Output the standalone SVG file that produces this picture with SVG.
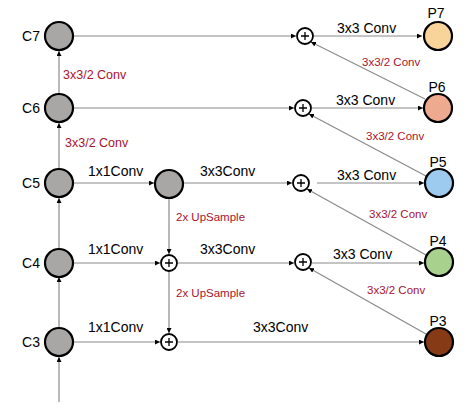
<svg xmlns="http://www.w3.org/2000/svg" width="474" height="414" viewBox="0 0 474 414">
<style>
.bg{fill:#ffffff}
.node{stroke:#000;stroke-width:2.2}
.c{fill:#a9a6a6}
.plus{fill:#fff;stroke:#000;stroke-width:1.8}
.pl{stroke:#000;stroke-width:1.3;fill:none}
.e{stroke:#8a8a8a;stroke-width:1.2;fill:none;marker-end:url(#ah)}
.t{font-family:"Liberation Sans",Arial,sans-serif;font-size:14px;fill:#000}
.r{font-family:"Liberation Sans",Arial,sans-serif;font-size:12.5px;fill:#a8122e}
.rs{font-family:"Liberation Sans",Arial,sans-serif;font-size:11.5px;fill:#a8122e}
</style>
<defs>
<marker id="ah" viewBox="0 0 10 10" refX="10" refY="5" markerWidth="5" markerHeight="5" orient="auto" markerUnits="userSpaceOnUse">
<path d="M0,0 L10,5 L0,10 z" fill="#000"/>
</marker>
</defs>
<rect class="bg" x="0" y="0" width="474" height="414"/>
<g id="connectors">
<line class="e" x1="59" y1="402" x2="59" y2="357"/>
<line class="e" x1="59" y1="328" x2="59" y2="277"/>
<line class="e" x1="59" y1="249" x2="59" y2="198"/>
<line class="e" x1="59" y1="169" x2="59" y2="123"/>
<line class="e" x1="59" y1="94" x2="59" y2="51"/>
<line class="e" x1="74" y1="36" x2="296" y2="36"/>
<line class="e" x1="74" y1="108" x2="294" y2="108"/>
<line class="e" x1="74" y1="183" x2="154" y2="183"/>
<line class="e" x1="184" y1="183" x2="292" y2="183"/>
<line class="e" x1="74" y1="263" x2="160" y2="263"/>
<line class="e" x1="178" y1="263" x2="294" y2="263"/>
<line class="e" x1="74" y1="342" x2="160" y2="342"/>
<line class="e" x1="178" y1="342" x2="424" y2="342"/>
<line class="e" x1="169" y1="198" x2="169" y2="254"/>
<line class="e" x1="169" y1="272" x2="169" y2="333"/>
<line class="e" x1="314" y1="36" x2="422" y2="36"/>
<line class="e" x1="312" y1="108" x2="423" y2="108"/>
<line class="e" x1="317" y1="183" x2="424" y2="183"/>
<line class="e" x1="312" y1="263" x2="424" y2="263"/>
<line class="e" x1="425" y1="99" x2="311" y2="42"/>
<line class="e" x1="426" y1="176" x2="309" y2="114"/>
<line class="e" x1="426" y1="255" x2="307" y2="189"/>
<line class="e" x1="426" y1="334" x2="309" y2="268"/>
</g>
<g id="labels">
<text class="r" x="63" y="79">3x3/2 Conv</text>
<text class="r" x="65" y="147">3x3/2 Conv</text>
<text class="t" x="88" y="176">1x1Conv</text>
<text class="t" x="200" y="176">3x3Conv</text>
<text class="rs" x="176" y="221">2x UpSample</text>
<text class="t" x="88" y="254">1x1Conv</text>
<text class="t" x="200" y="254">3x3Conv</text>
<text class="rs" x="176" y="297">2x UpSample</text>
<text class="t" x="88" y="332">1x1Conv</text>
<text class="t" x="253" y="332">3x3Conv</text>
<text class="t" x="337" y="33">3x3 Conv</text>
<text class="t" x="336" y="105">3x3 Conv</text>
<text class="t" x="337" y="180">3x3 Conv</text>
<text class="t" x="333" y="259">3x3 Conv</text>
<text class="rs" x="362" y="66">3x3/2 Conv</text>
<text class="rs" x="366" y="140">3x3/2 Conv</text>
<text class="rs" x="369" y="218">3x3/2 Conv</text>
<text class="rs" x="367" y="294">3x3/2 Conv</text>
</g>
<g id="C7"><circle class="node c" cx="59" cy="36" r="14"/><text class="t" x="40" y="41" text-anchor="end">C7</text></g>
<g id="C6"><circle class="node c" cx="59" cy="108" r="14"/><text class="t" x="40" y="113" text-anchor="end">C6</text></g>
<g id="C5"><circle class="node c" cx="59" cy="183" r="14"/><text class="t" x="40" y="188" text-anchor="end">C5</text></g>
<g id="C4"><circle class="node c" cx="59" cy="263" r="14"/><text class="t" x="40" y="268" text-anchor="end">C4</text></g>
<g id="C3"><circle class="node c" cx="59" cy="342" r="14"/><text class="t" x="40" y="347" text-anchor="end">C3</text></g>
<g id="M5"><circle class="node c" cx="169" cy="184" r="14"/></g>
<g id="S4"><circle class="plus" cx="169" cy="263" r="8"/><path class="pl" d="M165,263h8M169,259v8"/></g>
<g id="S3"><circle class="plus" cx="169" cy="342" r="8"/><path class="pl" d="M165,342h8M169,338v8"/></g>
<g id="Q7"><circle class="plus" cx="305" cy="36" r="8"/><path class="pl" d="M301,36h8M305,32v8"/></g>
<g id="Q6"><circle class="plus" cx="303" cy="108" r="8"/><path class="pl" d="M299,108h8M303,104v8"/></g>
<g id="Q5"><circle class="plus" cx="301" cy="183" r="8"/><path class="pl" d="M297,183h8M301,179v8"/></g>
<g id="Q4"><circle class="plus" cx="303" cy="262" r="8"/><path class="pl" d="M299,262h8M303,258v8"/></g>
<g id="P7"><circle class="node" fill="#f8d49b" cx="438" cy="36" r="14"/><text class="t" x="436" y="18" text-anchor="middle">P7</text></g>
<g id="P6"><circle class="node" fill="#eeaa8e" cx="438" cy="108" r="14"/><text class="t" x="437" y="92" text-anchor="middle">P6</text></g>
<g id="P5"><circle class="node" fill="#9dcbef" cx="439" cy="183" r="14"/><text class="t" x="438" y="167" text-anchor="middle">P5</text></g>
<g id="P4"><circle class="node" fill="#a9d18e" cx="439" cy="262" r="14"/><text class="t" x="438" y="246" text-anchor="middle">P4</text></g>
<g id="P3"><circle class="node" fill="#863b16" cx="439" cy="342" r="14"/><text class="t" x="438" y="326" text-anchor="middle">P3</text></g>
</svg>
